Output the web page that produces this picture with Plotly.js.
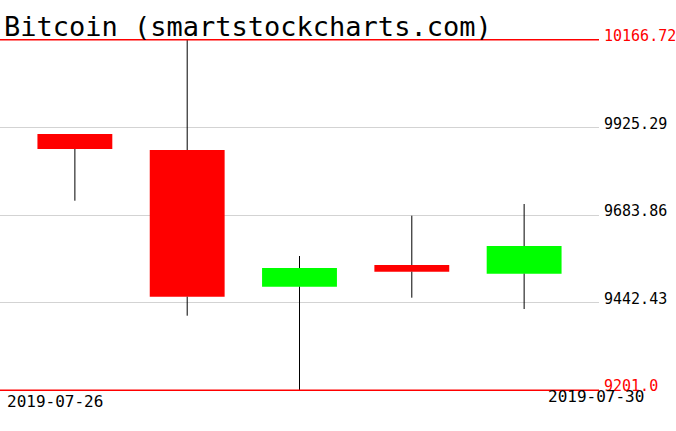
<!DOCTYPE html>
<html>
<head>
<meta charset="utf-8">
<script src="https://cdn.plot.ly/plotly-3.0.1.min.js"></script>
<style>
  html, body { margin: 0; padding: 0; background: #fff; }
  #chart { width: 676px; height: 431px; }
</style>
</head>
<body>
<div id="chart"></div>
<script>
// daily Bitcoin candles
var dates  = ['2019-07-26', '2019-07-27', '2019-07-28', '2019-07-29', '2019-07-30'];
var open   = [9907.4, 9863.2, 9486.0, 9545.9, 9521.9];
var high   = [9907.4, 10166.72, 9570.7, 9681.9, 9714.2];
var low    = [9723.3, 9406.0, 9201.0, 9455.7, 9424.5];
var close  = [9866.0, 9458.4, 9537.6, 9527.4, 9598.3];

var tickVals  = [9201.0, 9442.43, 9683.86, 9925.29, 10166.72];
var tickTexts = ['9201.0', '9442.43', '9683.86', '9925.29', '10166.72'];

var yMin = Math.min.apply(null, low);
var yMax = Math.max.apply(null, high);

// bodies: a bar from open to close
var bodyColors = close.map(function (c, i) { return c >= open[i] ? '#00ff00' : '#ff0000'; });
var bodies = {
  type: 'bar',
  x: dates,
  base: open,
  y: close.map(function (c, i) { return c - open[i]; }),
  width: 16 * 3600 * 1000,
  marker: {color: bodyColors, line: {width: 0}},
  hoverinfo: 'skip'
};

// wicks: high down to the body, body down to low
var wx = [], wy = [];
dates.forEach(function (d, i) {
  var top = Math.max(open[i], close[i]);
  var bot = Math.min(open[i], close[i]);
  wx.push(d, d, null, d, d, null);
  wy.push(high[i], top, null, bot, low[i], null);
});
var wicks = {
  type: 'scatter',
  mode: 'lines',
  x: wx,
  y: wy,
  line: {color: '#000', width: 1},
  hoverinfo: 'skip'
};

var mono = 'DejaVu Sans Mono';

var layout = {
  width: 676,
  height: 431,
  margin: {l: 0, r: 77, t: 40, b: 41},
  paper_bgcolor: '#fff',
  plot_bgcolor: '#fff',
  showlegend: false,
  title: {
    text: 'Bitcoin (smartstockcharts.com)',
    font: {family: mono, size: 27, color: '#000'},
    xref: 'container', x: 4 / 676, xanchor: 'left',
    yref: 'container', y: 1 - 27 / 431, yanchor: 'middle',
    pad: {t: 0, b: 0, l: 0, r: 0}
  },
  xaxis: {
    type: 'date',
    range: ['2019-07-25 08:00', '2019-07-30 16:00'],
    showgrid: false,
    zeroline: false,
    // red lines along the top and bottom of the plot (min / max)
    showline: true,
    mirror: true,
    linecolor: '#ff0000',
    linewidth: 1,
    showticklabels: false,
    ticks: ''
  },
  yaxis: {
    side: 'right',
    range: [yMin, yMax],
    tickmode: 'array',
    tickvals: tickVals,
    ticktext: tickTexts.map(function (t, i) {
      return (i === 0 || i === tickTexts.length - 1) ? '<span style="color:#ff0000">' + t + '</span>' : t;
    }),
    tickfont: {family: mono, size: 15, color: '#000'},
    ticks: '',
    ticklabelstandoff: 4,
    ticklabelshift: -4,
    showgrid: true,
    gridcolor: '#d3d3d3',
    gridwidth: 1,
    zeroline: false,
    showline: false
  },
  shapes: [yMin, yMax].map(function (v) {
    return {type: 'line', xref: 'paper', yref: 'y', x0: 0, x1: 1, y0: v, y1: v,
            layer: 'above', line: {color: '#ff0000', width: 1}};
  }),
  annotations: [
    {text: dates[0], xref: 'paper', yref: 'paper', x: 5 / 599, xanchor: 'left',
     y: -11 / 350, yanchor: 'middle', showarrow: false,
     font: {family: mono, size: 16, color: '#000'}},
    {text: dates[dates.length - 1], xref: 'paper', yref: 'paper', x: 646 / 599, xanchor: 'right',
     y: -6 / 350, yanchor: 'middle', showarrow: false,
     font: {family: mono, size: 16, color: '#000'}}
  ]
};

Plotly.newPlot('chart', [bodies, wicks], layout, {displayModeBar: false, staticPlot: true});
</script>
</body>
</html>
